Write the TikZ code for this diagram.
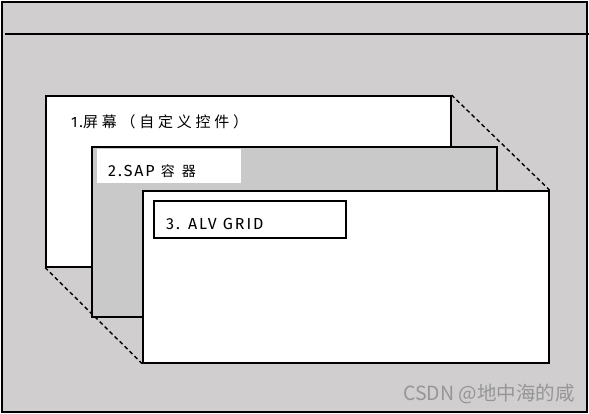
\documentclass[tikz,border=0pt]{standalone}
\usepackage{fontspec}
\usetikzlibrary{positioning}
\setmainfont[LetterSpace=12]{Fira Sans}
\newfontfamily\cjk{Noto Sans CJK SC}
\newfontfamily\cjkwide[LetterSpace=25]{Noto Sans CJK SC}
\newfontfamily\cjkwider[LetterSpace=50]{Noto Sans CJK SC}
\definecolor{bggray}{RGB}{208,206,207}
\definecolor{boxgray}{RGB}{201,201,201}
\definecolor{markgray}{RGB}{150,150,150}
\begin{document}
\begin{tikzpicture}[x=1pt,y=-1pt,
  layer/.style={draw,line width=1.5pt,anchor=north west,inner sep=0pt},
  depth/.style={line width=1.4pt,dash pattern=on 4pt off 3pt},
  label/.style={anchor=west,inner sep=0pt,font=\fontsize{16}{18}\selectfont}]
\useasboundingbox (0,0) rectangle (589,413);
\filldraw[fill=bggray,line width=2pt] (1.5,1.5) rectangle (586.5,411.5);
\draw[line width=1.4pt] (5,34) -- (589,34);

% the three layers, back to front
\node[layer,fill=white,minimum width=405pt,minimum height=171pt] (screen) at (45,95) {};
\node[layer,fill=boxgray,minimum width=405pt,minimum height=170pt] (sap) at (91,146) {};
\node[layer,fill=white,minimum width=406pt,minimum height=172pt] (grid) at (142,190) {};

\draw[depth] (screen.north east) -- (grid.north east);
\draw[depth] (screen.south west) -- (grid.south west);

\node[label,font=\fontsize{15}{17}\selectfont] (screentext) at (71,122) {1.{\cjkwide 屏幕（自定义控件）}};

\node[fill=white,anchor=north west,inner sep=0pt,minimum width=144pt,minimum height=34pt] (sapbox) at (97,149) {};
\node[label,right=11pt of sapbox.west,yshift=-5pt] (saptext) {2.SAP\ {\cjkwider\fontsize{14}{16}\selectfont 容器}};

\node[layer,fill=white,line width=1.6pt,minimum width=192pt,minimum height=37pt] (gridbox) at (153,200) {};
\node[label,right=13pt of gridbox.west,yshift=-5pt] (gridtext) {3. ALV GRID};

\node[anchor=east,inner sep=0pt,text=markgray,font=\cjk\fontsize{19.5}{22}\selectfont] (mark) at (575,394) {CSDN @地中海的咸};
\end{tikzpicture}
\end{document}
